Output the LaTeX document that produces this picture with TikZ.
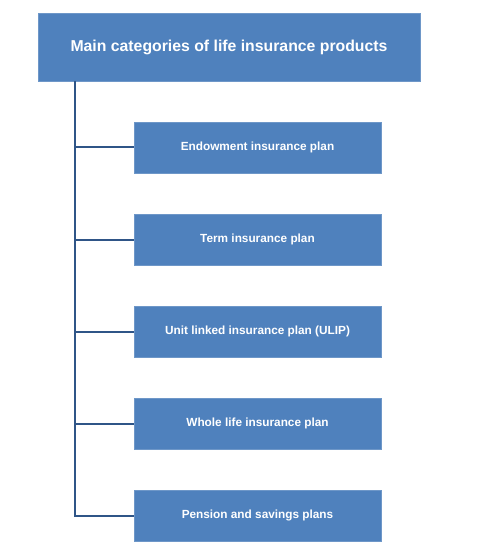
\documentclass[tikz,border=0pt]{standalone}
\usepackage{fontspec}
\setmainfont{Liberation Sans}
\begin{document}
\begin{tikzpicture}[x=1pt, y=-1pt]
    \definecolor{boxColour}{HTML}{4F81BD}
    \definecolor{edgeColour}{HTML}{6E97C8}
    \definecolor{lineColour}{HTML}{2F5587}

    \def\trunkX{74.5}
    \def\itemX{257.5}

    \tikzset{
        headBox/.style={fill=boxColour, draw=edgeColour, line width=0.6pt, minimum width=382pt, minimum height=68pt, inner sep=0pt, text=white, font=\bfseries\fontsize{15.8}{18}\selectfont},
        itemBox/.style={fill=boxColour, draw=edgeColour, line width=0.6pt, minimum width=247pt, minimum height=51pt, inner sep=0pt, text=white, font=\bfseries\fontsize{11.8}{14}\selectfont},
        branch/.style={draw=lineColour, line width=2pt}
    }

    \useasboundingbox (0,0) rectangle (500,556);

    \node[headBox] (main) at (229,47) {Main categories of life insurance products};

    \node[itemBox] (item1) at (\itemX,147.5) {Endowment insurance plan};
    \node[itemBox] (item2) at (\itemX,239.5) {Term insurance plan};
    \node[itemBox] (item3) at (\itemX,331.5) {Unit linked insurance plan (ULIP)};
    \node[itemBox] (item4) at (\itemX,423.5) {Whole life insurance plan};
    \node[itemBox] (item5) at (\itemX,515.5) {Pension and savings plans};

    \coordinate (trunkTop) at (main.south -| \trunkX,0);

    \draw[branch] (trunkTop) |- (item5.west);
    \foreach \i in {1,...,4}
        \draw[branch] (trunkTop |- item\i.west) -- (item\i.west);

\end{tikzpicture}
\end{document}
